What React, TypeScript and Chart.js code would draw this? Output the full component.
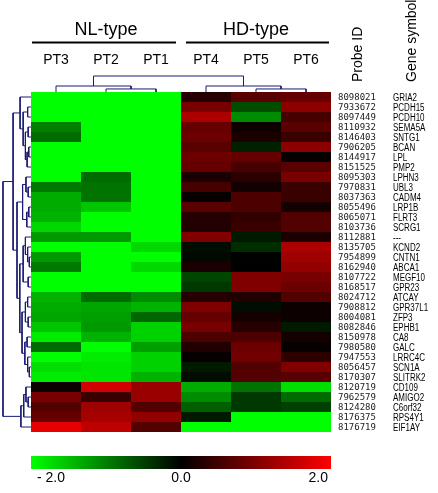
import React, { useEffect, useRef } from "react";
import { Chart, registerables } from "chart.js";
Chart.register(...registerables);

// ---------------- data ----------------
const patients = ["PT3", "PT2", "PT1", "PT4", "PT5", "PT6"];
const groupNames = ["NL-type", "HD-type"];
const groupSpans = [[0, 3], [3, 6]];
const probeIds = [
  "8098021", "7933672", "8097449", "8110932", "8146403", "7906205", "8144917", "8151525",
  "8095303", "7970831", "8037363", "8055496", "8065071", "8103736", "8112881", "8135705",
  "7954899", "8162940", "8107722", "8168517", "8024712", "7908812", "8004081", "8082846",
  "8150978", "7980580", "7947553", "8056457", "8170307", "8120719", "7962579", "8124280",
  "8176375", "8176719",
];
const geneSymbols = [
  "GRIA2", "PCDH15", "PCDH10", "SEMA5A", "SNTG1", "BCAN", "LPL", "PMP2",
  "LPHN3", "UBL3", "CADM4", "LRP1B", "FLRT3", "SCRG1", "---", "KCND2",
  "CNTN1", "ABCA1", "MEGF10", "GPR23", "ATCAY", "GPR37L1", "ZFP3", "EPHB1",
  "CA8", "GALC", "LRRC4C", "SCN1A", "SLITRK2", "CD109", "AMIGO2", "C6orf32",
  "RPS4Y1", "EIF1AY",
];
// log ratios, one row per probe, columns in patient order
const expression = [
  [-2, -2, -2, 0.3, 0.7, 0.8],
  [-2, -2, -2, 0.95, -0.6, 1.1],
  [-2, -2, -2, 1.35, -1.1, 0.55],
  [-1.0, -2, -2, 0.8, 0.1, 0.7],
  [-0.85, -2, -2, 0.85, 0.2, 0.45],
  [-2, -2, -2, 0.7, -0.25, 1.1],
  [-2, -2, -2, 0.85, 0.8, 0.05],
  [-2, -2, -2, 0.8, 0.55, 0.7],
  [-2, -0.85, -2, 0.2, 0.35, 0.95],
  [-0.95, -0.9, -2, 0.55, 0.15, 0.45],
  [-1.35, -0.9, -2, 0.05, 0.6, 0.45],
  [-1.35, -1.55, -2, 0.7, 0.6, 0.15],
  [-1.4, -2, -2, 0.3, 0.4, 0.65],
  [-1.7, -2, -2, 0.25, 0.45, 0.65],
  [-1.2, -1.2, -2, 1.0, -0.2, 0.2],
  [-2, -2, -1.7, -0.1, -0.35, 1.35],
  [-1.2, -2, -2, -0.08, 0.02, 1.25],
  [-0.95, -2, -1.7, 0.2, 0, 1.15],
  [-2, -2, -2, -0.55, 1.0, 0.95],
  [-2, -2, -2, -0.45, 1.0, 0.85],
  [-1.4, -0.85, -1.1, 0.3, 0.25, 0.65],
  [-1.35, -1.3, -1.4, 1.0, -0.1, 0.1],
  [-1.3, -1.25, -0.8, 0.8, 0.15, 0.1],
  [-1.55, -1.2, -1.65, 0.95, 0.3, -0.2],
  [-1.85, -1.4, -1.65, 0.6, 0.6, 0.15],
  [-0.85, -2, -1.25, 0.25, 0.85, 0.05],
  [-2, -1.85, -1.65, 0.05, 0.9, 0.35],
  [-1.75, -1.8, -1.65, -0.2, 0.65, 1.0],
  [-1.85, -1.8, -1.4, -0.1, 0.65, 0.7],
  [0.1, 1.65, 1.2, -1.35, -0.9, -1.75],
  [0.95, 0.45, 1.2, -1.1, -0.45, -0.85],
  [0.65, 1.25, 0.65, -0.75, -0.45, -0.5],
  [0.8, 1.3, 1.15, -0.2, -2, -2],
  [1.8, 1.5, 0.65, -2, -2, -2],
];
const colorMin = -2;
const colorMax = 2;
const colorTicks = [-2, 0, 2];
const colorTickLabels = ["- 2.0", "0.0", "2.0"];

// dendrograms: leaf = index, merge = [left, right, height(0..1)]
type Node = number | [Node, Node, number];
const rowA1: Node = [0, [[1, 2, 0.12], [[3, 4, 0.1], [[5, 6, 0.08], 7, 0.14], 0.2], 0.28], 0.39];
const rowA2a: Node = [[8, [9, 10, 0.1], 0.18], [[11, 12, 0.08], 13, 0.15], 0.3];
const rowA2b: Node = [[14, [15, [16, 17, 0.06], 0.12], 0.2], [18, 19, 0.1], 0.28];
const rowA2c: Node = [[[20, 21, 0.12], [22, 23, 0.1], 0.2], [[24, 25, 0.14], [26, [27, 28, 0.06], 0.12], 0.22], 0.32];
const rowB: Node = [[[29, [30, 31, 0.1], 0.18], 32, 0.26], 33, 0.36];
const rowTree: Node = [[rowA1, [rowA2a, [rowA2b, rowA2c, 0.4], 0.5], 0.64], rowB, 1.0];
const colTree: Node = [[0, [1, 2, 0.19], 0.375], [3, [4, 5, 0.19], 0.375], 1.0];

// ---------------- layout (pixels -> data units) ----------------
const W = 438;
const H = 493;
const HEAT_LEFT = 31; // px
const HEAT_TOP = 92; // px
const COL_W = 50; // px per column
const ROW_H = 10; // px per row
const ROW_DENDRO = 0.56; // columns of width for the row dendrogram
const COL_DENDRO = 1.6; // rows of height for the column dendrogram
const NAVY = "#1b1b72";
const FONT = '"Liberation Sans", Arial, Helvetica, sans-serif';

type Seg = { x: number; y: number }[];
function buildSegments(tree: Node, toXY: (pos: number, h: number) => { x: number; y: number }) {
  const segs: Seg[] = [];
  const walk = (n: Node): { p: number; h: number } => {
    if (typeof n === "number") return { p: n + 0.5, h: 0 };
    const a = walk(n[0]);
    const b = walk(n[1]);
    const h = n[2];
    segs.push([toXY(a.p, a.h), toXY(a.p, h), toXY(b.p, h), toXY(b.p, b.h)]);
    return { p: (a.p + b.p) / 2, h };
  };
  walk(tree);
  return segs;
}

function cellColor(v: number) {
  const t = Math.min(1, Math.abs(v) / colorMax);
  const c = Math.round(t * 255);
  return v < 0 ? `rgb(0,${c},0)` : `rgb(${c},0,0)`;
}

const heatPlugin = {
  id: "heat",
  beforeDatasetsDraw(chart: any) {
    const ctx = chart.ctx as CanvasRenderingContext2D;
    const xs = chart.scales.x;
    const ys = chart.scales.y;
    const px = (u: number) => Math.round(xs.getPixelForValue(u));
    const py = (r: number) => Math.round(ys.getPixelForValue(r));
    ctx.save();
    expression.forEach((row, r) => {
      row.forEach((v, c) => {
        ctx.fillStyle = cellColor(v);
        ctx.fillRect(px(c), py(r), px(c + 1) - px(c), py(r + 1) - py(r));
      });
    });
    // colour bar
    const barU0 = 0;
    const barU1 = patients.length;
    const vToU = (v: number) => barU0 + ((v - colorMin) / (colorMax - colorMin)) * (barU1 - barU0);
    const x0 = xs.getPixelForValue(barU0);
    const x1 = xs.getPixelForValue(barU1);
    const g = ctx.createLinearGradient(x0, 0, x1, 0);
    g.addColorStop(0, cellColor(colorMin));
    g.addColorStop(0.5, "rgb(0,0,0)");
    g.addColorStop(1, cellColor(colorMax));
    ctx.fillStyle = g;
    const by0 = py(36.4);
    const by1 = py(37.7);
    ctx.fillRect(Math.round(x0), by0, Math.round(x1 - x0), by1 - by0);
    ctx.fillStyle = "#000";
    ctx.font = `14px ${FONT}`;
    ctx.textBaseline = "middle";
    const ly = ys.getPixelForValue(38.6);
    colorTicks.forEach((v, i) => {
      const u = vToU(v);
      let align: CanvasTextAlign = "center";
      let off = 0;
      if (i === 0) { align = "left"; off = 0.12; }
      if (i === colorTicks.length - 1) { align = "right"; off = -0.06; }
      ctx.textAlign = align;
      ctx.fillText(colorTickLabels[i], xs.getPixelForValue(u + off), ly);
    });
    ctx.restore();
  },
  afterDraw(chart: any) {
    const ctx = chart.ctx as CanvasRenderingContext2D;
    const xs = chart.scales.x;
    const ys = chart.scales.y;
    ctx.save();
    ctx.fillStyle = "#000";
    ctx.strokeStyle = "#000";
    // group headers
    ctx.font = `18px ${FONT}`;
    ctx.textAlign = "center";
    ctx.textBaseline = "middle";
    groupNames.forEach((name, i) => {
      const [a, b] = groupSpans[i];
      ctx.fillText(name, xs.getPixelForValue((a + b) / 2), ys.getPixelForValue(-6.2));
      ctx.lineWidth = 2;
      ctx.beginPath();
      const ly = ys.getPixelForValue(-4.95);
      ctx.moveTo(xs.getPixelForValue(a + (i === 0 ? 0.02 : 0.1)), ly);
      ctx.lineTo(xs.getPixelForValue(b - (i === 0 ? 0.1 : 0.04)), ly);
      ctx.stroke();
    });
    // patient labels
    ctx.font = `14px ${FONT}`;
    patients.forEach((p, c) => {
      ctx.fillText(p, xs.getPixelForValue(c + 0.5), ys.getPixelForValue(-3.2));
    });
    // rotated column titles
    const rot = (text: string, u: number) => {
      ctx.save();
      ctx.translate(xs.getPixelForValue(u), ys.getPixelForValue(-1.0));
      ctx.rotate(-Math.PI / 2);
      ctx.textAlign = "left";
      ctx.textBaseline = "middle";
      ctx.fillText(text, 0, 0);
      ctx.restore();
    };
    rot("Probe ID", 6.54);
    rot("Gene symbol", 7.62);
    // row labels
    ctx.textAlign = "left";
    ctx.textBaseline = "middle";
    probeIds.forEach((id, r) => {
      ctx.font = `9px "DejaVu Sans Mono", monospace`;
      ctx.fillStyle = "#222";
      ctx.fillText(id, xs.getPixelForValue(6.14), ys.getPixelForValue(r + 0.6));
      ctx.fillStyle = "#000";
      ctx.font = `10px ${FONT}`;
      ctx.save();
      ctx.translate(xs.getPixelForValue(7.24), ys.getPixelForValue(r + 0.6));
      ctx.scale(0.8, 1);
      ctx.fillText(geneSymbols[r], 0, 0);
      ctx.restore();
    });
    ctx.restore();
  },
};

export default function App() {
  const ref = useRef<HTMLCanvasElement | null>(null);
  useEffect(() => {
    if (!ref.current) return;
    const rowSegs = buildSegments(rowTree, (pos, h) => ({ x: -h * ROW_DENDRO, y: pos }));
    const colSegs = buildSegments(colTree, (pos, h) => ({ x: pos, y: -h * COL_DENDRO }));
    const datasets = [...rowSegs, ...colSegs].map((seg) => ({
      data: seg,
      borderColor: NAVY,
      borderWidth: 1,
      pointRadius: 0,
      fill: false,
      tension: 0,
      showLine: true,
    }));
    const chart = new Chart(ref.current, {
      type: "scatter",
      data: { datasets },
      options: {
        animation: false,
        responsive: false,
        devicePixelRatio: 1,
        layout: { padding: 0 },
        plugins: { legend: { display: false }, tooltip: { enabled: false } },
        scales: {
          x: { type: "linear", display: false, min: -HEAT_LEFT / COL_W, max: (W - HEAT_LEFT) / COL_W },
          y: { type: "linear", display: false, reverse: true, min: -HEAT_TOP / ROW_H, max: (H - HEAT_TOP) / ROW_H },
        },
      },
      plugins: [heatPlugin],
    } as any);
    return () => chart.destroy();
  }, []);
  return (
    <div style={{ position: "fixed", left: 0, top: 0, width: W, height: H, background: "#fff" }}>
      <canvas ref={ref} width={W} height={H} style={{ display: "block" }} />
    </div>
  );
}
